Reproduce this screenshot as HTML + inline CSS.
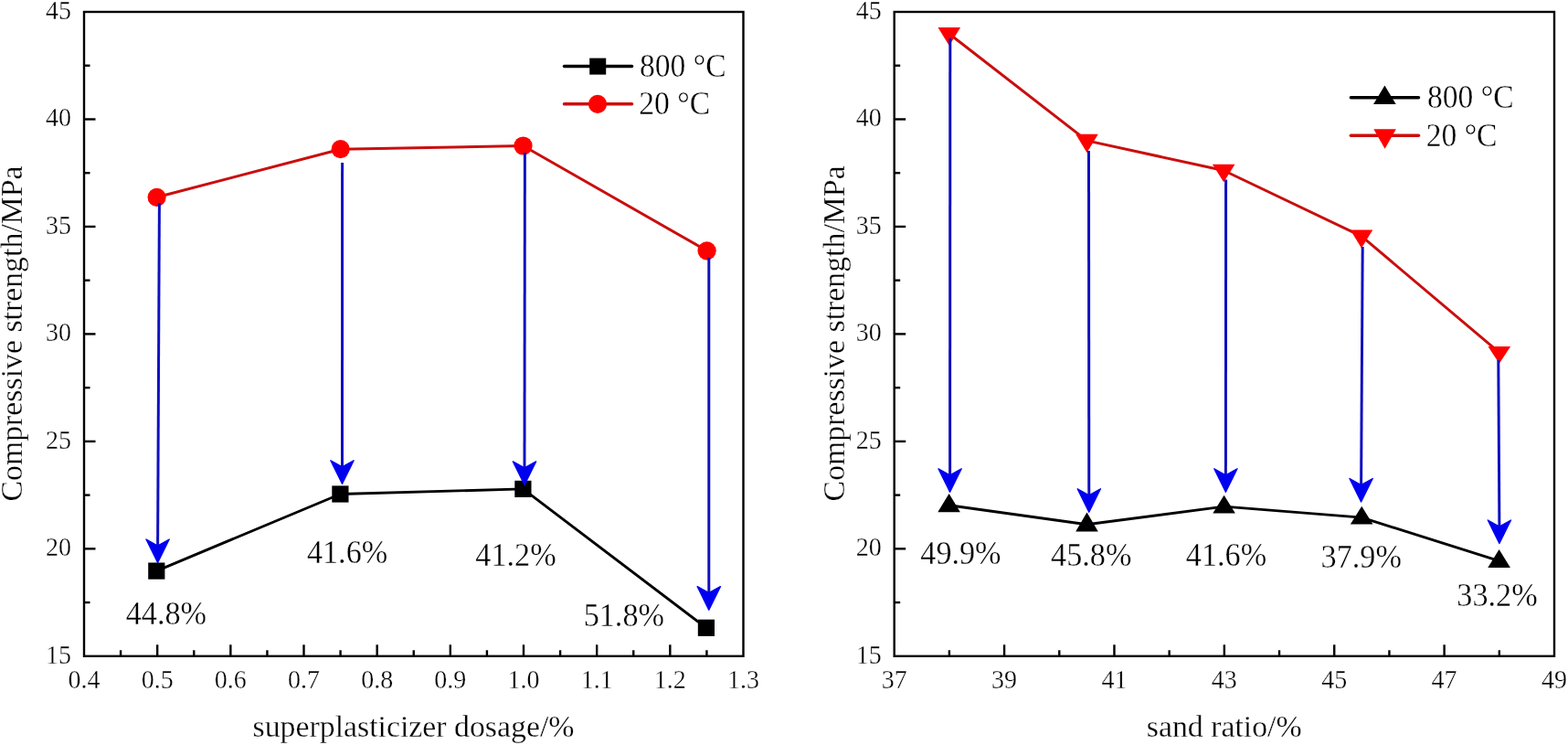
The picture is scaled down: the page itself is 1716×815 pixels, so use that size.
<!DOCTYPE html>
<html><head><meta charset="utf-8"><title>Compressive strength charts</title>
<style>
html,body{margin:0;padding:0;background:#fff;}
body{width:1716px;height:815px;overflow:hidden;}
svg{display:block;}
text{font-family:"Liberation Serif", "Times New Roman", serif;fill:#000;stroke:#fff;stroke-width:0.3px;}
.tk{font-size:28px;}
.lb{font-size:34.2px;}
.lg{font-size:33.6px;}
.ti{font-size:33.8px;}
</style></head>
<body>
<svg width="1716" height="815" viewBox="0 0 1716 815">
<rect width="1716" height="815" fill="#fff"/>
<rect x="92.0" y="13.0" width="721.5" height="704.8" fill="none" stroke="#000" stroke-width="2.4" stroke-linejoin="miter"/>
<text x="78.00" y="725.40" text-anchor="end" class="tk" transform="matrix(1,0,0,1.04,0,-28.644)">15</text>
<line x1="92.0" y1="600.33" x2="104.50" y2="600.33" stroke="#000" stroke-width="2.4"/>
<text x="78.00" y="607.93" text-anchor="end" class="tk" transform="matrix(1,0,0,1.04,0,-23.945)">20</text>
<line x1="92.0" y1="482.87" x2="104.50" y2="482.87" stroke="#000" stroke-width="2.4"/>
<text x="78.00" y="490.47" text-anchor="end" class="tk" transform="matrix(1,0,0,1.04,0,-19.247)">25</text>
<line x1="92.0" y1="365.40" x2="104.50" y2="365.40" stroke="#000" stroke-width="2.4"/>
<text x="78.00" y="373.00" text-anchor="end" class="tk" transform="matrix(1,0,0,1.04,0,-14.548)">30</text>
<line x1="92.0" y1="247.93" x2="104.50" y2="247.93" stroke="#000" stroke-width="2.4"/>
<text x="78.00" y="255.53" text-anchor="end" class="tk" transform="matrix(1,0,0,1.04,0,-9.849)">35</text>
<line x1="92.0" y1="130.47" x2="104.50" y2="130.47" stroke="#000" stroke-width="2.4"/>
<text x="78.00" y="138.07" text-anchor="end" class="tk" transform="matrix(1,0,0,1.04,0,-5.151)">40</text>
<text x="78.00" y="20.60" text-anchor="end" class="tk" transform="matrix(1,0,0,1.04,0,-0.452)">45</text>
<line x1="92.0" y1="659.07" x2="98.50" y2="659.07" stroke="#000" stroke-width="2.4"/>
<line x1="92.0" y1="541.60" x2="98.50" y2="541.60" stroke="#000" stroke-width="2.4"/>
<line x1="92.0" y1="424.13" x2="98.50" y2="424.13" stroke="#000" stroke-width="2.4"/>
<line x1="92.0" y1="306.67" x2="98.50" y2="306.67" stroke="#000" stroke-width="2.4"/>
<line x1="92.0" y1="189.20" x2="98.50" y2="189.20" stroke="#000" stroke-width="2.4"/>
<line x1="92.0" y1="71.73" x2="98.50" y2="71.73" stroke="#000" stroke-width="2.4"/>
<text x="92.00" y="753.40" text-anchor="middle" class="tk" transform="matrix(1,0,0,1.07,0,-52.738)">0.4</text>
<line x1="172.17" y1="717.8" x2="172.17" y2="705.30" stroke="#000" stroke-width="2.4"/>
<text x="172.17" y="753.40" text-anchor="middle" class="tk" transform="matrix(1,0,0,1.07,0,-52.738)">0.5</text>
<line x1="252.33" y1="717.8" x2="252.33" y2="705.30" stroke="#000" stroke-width="2.4"/>
<text x="252.33" y="753.40" text-anchor="middle" class="tk" transform="matrix(1,0,0,1.07,0,-52.738)">0.6</text>
<line x1="332.50" y1="717.8" x2="332.50" y2="705.30" stroke="#000" stroke-width="2.4"/>
<text x="332.50" y="753.40" text-anchor="middle" class="tk" transform="matrix(1,0,0,1.07,0,-52.738)">0.7</text>
<line x1="412.67" y1="717.8" x2="412.67" y2="705.30" stroke="#000" stroke-width="2.4"/>
<text x="412.67" y="753.40" text-anchor="middle" class="tk" transform="matrix(1,0,0,1.07,0,-52.738)">0.8</text>
<line x1="492.83" y1="717.8" x2="492.83" y2="705.30" stroke="#000" stroke-width="2.4"/>
<text x="492.83" y="753.40" text-anchor="middle" class="tk" transform="matrix(1,0,0,1.07,0,-52.738)">0.9</text>
<line x1="573.00" y1="717.8" x2="573.00" y2="705.30" stroke="#000" stroke-width="2.4"/>
<text x="573.00" y="753.40" text-anchor="middle" class="tk" transform="matrix(1,0,0,1.07,0,-52.738)">1.0</text>
<line x1="653.17" y1="717.8" x2="653.17" y2="705.30" stroke="#000" stroke-width="2.4"/>
<text x="653.17" y="753.40" text-anchor="middle" class="tk" transform="matrix(1,0,0,1.07,0,-52.738)">1.1</text>
<line x1="733.33" y1="717.8" x2="733.33" y2="705.30" stroke="#000" stroke-width="2.4"/>
<text x="733.33" y="753.40" text-anchor="middle" class="tk" transform="matrix(1,0,0,1.07,0,-52.738)">1.2</text>
<text x="813.50" y="753.40" text-anchor="middle" class="tk" transform="matrix(1,0,0,1.07,0,-52.738)">1.3</text>
<line x1="132.08" y1="717.8" x2="132.08" y2="711.30" stroke="#000" stroke-width="2.4"/>
<line x1="212.25" y1="717.8" x2="212.25" y2="711.30" stroke="#000" stroke-width="2.4"/>
<line x1="292.42" y1="717.8" x2="292.42" y2="711.30" stroke="#000" stroke-width="2.4"/>
<line x1="372.58" y1="717.8" x2="372.58" y2="711.30" stroke="#000" stroke-width="2.4"/>
<line x1="452.75" y1="717.8" x2="452.75" y2="711.30" stroke="#000" stroke-width="2.4"/>
<line x1="532.92" y1="717.8" x2="532.92" y2="711.30" stroke="#000" stroke-width="2.4"/>
<line x1="613.08" y1="717.8" x2="613.08" y2="711.30" stroke="#000" stroke-width="2.4"/>
<line x1="693.25" y1="717.8" x2="693.25" y2="711.30" stroke="#000" stroke-width="2.4"/>
<line x1="773.42" y1="717.8" x2="773.42" y2="711.30" stroke="#000" stroke-width="2.4"/>
<polyline points="171.6,215.8 372.7,163.2 572.5,159.5 773.6,274.3" fill="none" stroke="#CA0E0E" stroke-width="3" stroke-linejoin="round"/>
<polyline points="171.3,624.6 372.4,540.5 572.4,534.9 772.9,686.8" fill="none" stroke="#000" stroke-width="2.9" stroke-linejoin="round"/>
<circle cx="171.6" cy="215.8" r="10.1" fill="#FF0000"/>
<circle cx="372.7" cy="163.2" r="10.1" fill="#FF0000"/>
<circle cx="572.5" cy="159.5" r="10.1" fill="#FF0000"/>
<circle cx="773.6" cy="274.3" r="10.1" fill="#FF0000"/>
<rect x="162.20" y="615.50" width="18.2" height="18.2" fill="#000"/>
<rect x="363.30" y="531.40" width="18.2" height="18.2" fill="#000"/>
<rect x="563.30" y="525.80" width="18.2" height="18.2" fill="#000"/>
<rect x="763.80" y="677.70" width="18.2" height="18.2" fill="#000"/>
<line x1="174.40" y1="222.00" x2="172.60" y2="599.00" stroke="#1010C0" stroke-width="3"/>
<path d="M172.60,615.50 L160.00,590.00 L172.60,597.00 L185.20,590.00 Z" fill="#0000F0" stroke="#0000F0" stroke-width="1.4" stroke-linejoin="round"/>
<line x1="374.60" y1="178.00" x2="374.50" y2="512.80" stroke="#1010C0" stroke-width="3"/>
<path d="M374.50,529.30 L361.90,503.80 L374.50,510.80 L387.10,503.80 Z" fill="#0000F0" stroke="#0000F0" stroke-width="1.4" stroke-linejoin="round"/>
<line x1="574.40" y1="167.00" x2="574.00" y2="513.90" stroke="#1010C0" stroke-width="3"/>
<path d="M574.00,530.40 L561.40,504.90 L574.00,511.90 L586.60,504.90 Z" fill="#0000F0" stroke="#0000F0" stroke-width="1.4" stroke-linejoin="round"/>
<line x1="775.80" y1="282.00" x2="775.80" y2="650.70" stroke="#1010C0" stroke-width="3"/>
<path d="M775.80,667.20 L763.20,641.70 L775.80,648.70 L788.40,641.70 Z" fill="#0000F0" stroke="#0000F0" stroke-width="1.4" stroke-linejoin="round"/>
<text x="181.95" y="682.70" text-anchor="middle" class="lb" transform="matrix(1,0,0,1.035,0,-23.894)">44.8%</text>
<text x="380.05" y="615.80" text-anchor="middle" class="lb" transform="matrix(1,0,0,1.035,0,-21.553)">41.6%</text>
<text x="564.50" y="618.60" text-anchor="middle" class="lb" transform="matrix(1,0,0,1.035,0,-21.651)">41.2%</text>
<text x="682.80" y="684.60" text-anchor="middle" class="lb" transform="matrix(1,0,0,1.035,0,-23.961)">51.8%</text>
<line x1="617.5" y1="72.6" x2="691.5" y2="72.6" stroke="#000" stroke-width="3.5" stroke-linecap="round"/>
<rect x="645.2" y="63.6" width="18" height="18" fill="#000"/>
<line x1="617.5" y1="113.7" x2="691.5" y2="113.7" stroke="#CA0E0E" stroke-width="3.5" stroke-linecap="round"/>
<circle cx="654" cy="113.8" r="10.1" fill="#FF0000"/>
<text x="700.00" y="84.30" class="lg" transform="matrix(1,0,0,1.045,0,-3.793)">800 °C</text>
<text x="699.30" y="124.70" class="lg" transform="matrix(1,0,0,1.045,0,-5.611)">20 °C</text>
<text x="452.5" y="805.5" text-anchor="middle" class="ti">superplasticizer dosage/%</text>
<text transform="translate(24.3,365) rotate(-90)" x="0" y="0" text-anchor="middle" class="ti">Compressive strength/MPa</text>
<rect x="978.7" y="13.0" width="722.3" height="704.8" fill="none" stroke="#000" stroke-width="2.4" stroke-linejoin="miter"/>
<text x="964.80" y="725.40" text-anchor="end" class="tk" transform="matrix(1,0,0,1.04,0,-28.644)">15</text>
<line x1="978.7" y1="600.33" x2="991.20" y2="600.33" stroke="#000" stroke-width="2.4"/>
<text x="964.80" y="607.93" text-anchor="end" class="tk" transform="matrix(1,0,0,1.04,0,-23.945)">20</text>
<line x1="978.7" y1="482.87" x2="991.20" y2="482.87" stroke="#000" stroke-width="2.4"/>
<text x="964.80" y="490.47" text-anchor="end" class="tk" transform="matrix(1,0,0,1.04,0,-19.247)">25</text>
<line x1="978.7" y1="365.40" x2="991.20" y2="365.40" stroke="#000" stroke-width="2.4"/>
<text x="964.80" y="373.00" text-anchor="end" class="tk" transform="matrix(1,0,0,1.04,0,-14.548)">30</text>
<line x1="978.7" y1="247.93" x2="991.20" y2="247.93" stroke="#000" stroke-width="2.4"/>
<text x="964.80" y="255.53" text-anchor="end" class="tk" transform="matrix(1,0,0,1.04,0,-9.849)">35</text>
<line x1="978.7" y1="130.47" x2="991.20" y2="130.47" stroke="#000" stroke-width="2.4"/>
<text x="964.80" y="138.07" text-anchor="end" class="tk" transform="matrix(1,0,0,1.04,0,-5.151)">40</text>
<text x="964.80" y="20.60" text-anchor="end" class="tk" transform="matrix(1,0,0,1.04,0,-0.452)">45</text>
<line x1="978.7" y1="659.07" x2="985.20" y2="659.07" stroke="#000" stroke-width="2.4"/>
<line x1="978.7" y1="541.60" x2="985.20" y2="541.60" stroke="#000" stroke-width="2.4"/>
<line x1="978.7" y1="424.13" x2="985.20" y2="424.13" stroke="#000" stroke-width="2.4"/>
<line x1="978.7" y1="306.67" x2="985.20" y2="306.67" stroke="#000" stroke-width="2.4"/>
<line x1="978.7" y1="189.20" x2="985.20" y2="189.20" stroke="#000" stroke-width="2.4"/>
<line x1="978.7" y1="71.73" x2="985.20" y2="71.73" stroke="#000" stroke-width="2.4"/>
<text x="978.70" y="753.40" text-anchor="middle" class="tk" transform="matrix(1,0,0,1.07,0,-52.738)">37</text>
<line x1="1099.08" y1="717.8" x2="1099.08" y2="705.30" stroke="#000" stroke-width="2.4"/>
<text x="1099.08" y="753.40" text-anchor="middle" class="tk" transform="matrix(1,0,0,1.07,0,-52.738)">39</text>
<line x1="1219.47" y1="717.8" x2="1219.47" y2="705.30" stroke="#000" stroke-width="2.4"/>
<text x="1219.47" y="753.40" text-anchor="middle" class="tk" transform="matrix(1,0,0,1.07,0,-52.738)">41</text>
<line x1="1339.85" y1="717.8" x2="1339.85" y2="705.30" stroke="#000" stroke-width="2.4"/>
<text x="1339.85" y="753.40" text-anchor="middle" class="tk" transform="matrix(1,0,0,1.07,0,-52.738)">43</text>
<line x1="1460.23" y1="717.8" x2="1460.23" y2="705.30" stroke="#000" stroke-width="2.4"/>
<text x="1460.23" y="753.40" text-anchor="middle" class="tk" transform="matrix(1,0,0,1.07,0,-52.738)">45</text>
<line x1="1580.62" y1="717.8" x2="1580.62" y2="705.30" stroke="#000" stroke-width="2.4"/>
<text x="1580.62" y="753.40" text-anchor="middle" class="tk" transform="matrix(1,0,0,1.07,0,-52.738)">47</text>
<text x="1701.00" y="753.40" text-anchor="middle" class="tk" transform="matrix(1,0,0,1.07,0,-52.738)">49</text>
<line x1="1038.89" y1="717.8" x2="1038.89" y2="711.30" stroke="#000" stroke-width="2.4"/>
<line x1="1159.28" y1="717.8" x2="1159.28" y2="711.30" stroke="#000" stroke-width="2.4"/>
<line x1="1279.66" y1="717.8" x2="1279.66" y2="711.30" stroke="#000" stroke-width="2.4"/>
<line x1="1400.04" y1="717.8" x2="1400.04" y2="711.30" stroke="#000" stroke-width="2.4"/>
<line x1="1520.42" y1="717.8" x2="1520.42" y2="711.30" stroke="#000" stroke-width="2.4"/>
<line x1="1640.81" y1="717.8" x2="1640.81" y2="711.30" stroke="#000" stroke-width="2.4"/>
<polyline points="1038.80,37.00 1189.50,153.87 1339.20,186.52 1490.00,258.44 1640.80,385.58" fill="none" stroke="#CA0E0E" stroke-width="3" stroke-linejoin="round"/>
<polyline points="1038.60,552.75 1189.50,573.70 1339.60,554.15 1490.20,566.17 1640.60,613.64" fill="none" stroke="#000" stroke-width="2.9" stroke-linejoin="round"/>
<path d="M1026.50,30.00 L1051.10,30.00 L1038.80,50.00 Z" fill="#FF0000"/>
<path d="M1177.20,146.80 L1201.80,146.80 L1189.50,167.00 Z" fill="#FF0000"/>
<path d="M1326.90,179.70 L1351.50,179.70 L1339.20,199.20 Z" fill="#FF0000"/>
<path d="M1477.70,251.40 L1502.30,251.40 L1490.00,271.50 Z" fill="#FF0000"/>
<path d="M1628.50,379.00 L1653.10,379.00 L1640.80,397.80 Z" fill="#FF0000"/>
<path d="M1038.60,539.90 L1050.90,560.30 L1026.30,560.30 Z" fill="#000"/>
<path d="M1189.50,560.60 L1201.80,581.40 L1177.20,581.40 Z" fill="#000"/>
<path d="M1339.60,541.80 L1351.90,561.40 L1327.30,561.40 Z" fill="#000"/>
<path d="M1490.20,553.70 L1502.50,573.50 L1477.90,573.50 Z" fill="#000"/>
<path d="M1640.60,601.10 L1652.90,621.00 L1628.30,621.00 Z" fill="#000"/>
<line x1="1039.80" y1="42.00" x2="1039.60" y2="521.80" stroke="#1010C0" stroke-width="3"/>
<path d="M1039.60,538.30 L1027.00,512.80 L1039.60,519.80 L1052.20,512.80 Z" fill="#0000F0" stroke="#0000F0" stroke-width="1.4" stroke-linejoin="round"/>
<line x1="1191.50" y1="165.00" x2="1191.80" y2="543.80" stroke="#1010C0" stroke-width="3"/>
<path d="M1191.80,560.30 L1179.20,534.80 L1191.80,541.80 L1204.40,534.80 Z" fill="#0000F0" stroke="#0000F0" stroke-width="1.4" stroke-linejoin="round"/>
<line x1="1341.60" y1="196.50" x2="1341.40" y2="521.80" stroke="#1010C0" stroke-width="3"/>
<path d="M1341.40,538.30 L1328.80,512.80 L1341.40,519.80 L1354.00,512.80 Z" fill="#0000F0" stroke="#0000F0" stroke-width="1.4" stroke-linejoin="round"/>
<line x1="1491.20" y1="270.00" x2="1489.60" y2="532.50" stroke="#1010C0" stroke-width="3"/>
<path d="M1489.60,549.00 L1477.00,523.50 L1489.60,530.50 L1502.20,523.50 Z" fill="#0000F0" stroke="#0000F0" stroke-width="1.4" stroke-linejoin="round"/>
<line x1="1639.80" y1="394.00" x2="1640.90" y2="578.00" stroke="#1010C0" stroke-width="3"/>
<path d="M1640.90,594.50 L1628.30,569.00 L1640.90,576.00 L1653.50,569.00 Z" fill="#0000F0" stroke="#0000F0" stroke-width="1.4" stroke-linejoin="round"/>
<text x="1051.45" y="616.90" text-anchor="middle" class="lb" transform="matrix(1,0,0,1.035,0,-21.591)">49.9%</text>
<text x="1194.30" y="618.60" text-anchor="middle" class="lb" transform="matrix(1,0,0,1.035,0,-21.651)">45.8%</text>
<text x="1342.05" y="618.60" text-anchor="middle" class="lb" transform="matrix(1,0,0,1.035,0,-21.651)">41.6%</text>
<text x="1489.75" y="621.20" text-anchor="middle" class="lb" transform="matrix(1,0,0,1.035,0,-21.742)">37.9%</text>
<text x="1638.50" y="663.10" text-anchor="middle" class="lb" transform="matrix(1,0,0,1.035,0,-23.208)">33.2%</text>
<line x1="1478.4" y1="106.7" x2="1552.5" y2="106.7" stroke="#000" stroke-width="3.5" stroke-linecap="round"/>
<path d="M1515.40,93.50 L1527.70,114.00 L1503.10,114.00 Z" fill="#000"/>
<line x1="1478.4" y1="148.2" x2="1552.5" y2="148.2" stroke="#CA0E0E" stroke-width="3.5" stroke-linecap="round"/>
<path d="M1503.30,141.30 L1527.90,141.30 L1515.60,162.70 Z" fill="#FF0000"/>
<text x="1562.00" y="118.20" class="lg" transform="matrix(1,0,0,1.045,0,-5.319)">800 °C</text>
<text x="1560.70" y="159.80" class="lg" transform="matrix(1,0,0,1.045,0,-7.191)">20 °C</text>
<text x="1339.7" y="805.5" text-anchor="middle" class="ti">sand ratio/%</text>
<text transform="translate(924,364.9) rotate(-90)" x="0" y="0" text-anchor="middle" class="ti">Compressive strength/MPa</text>
</svg>
</body></html>
